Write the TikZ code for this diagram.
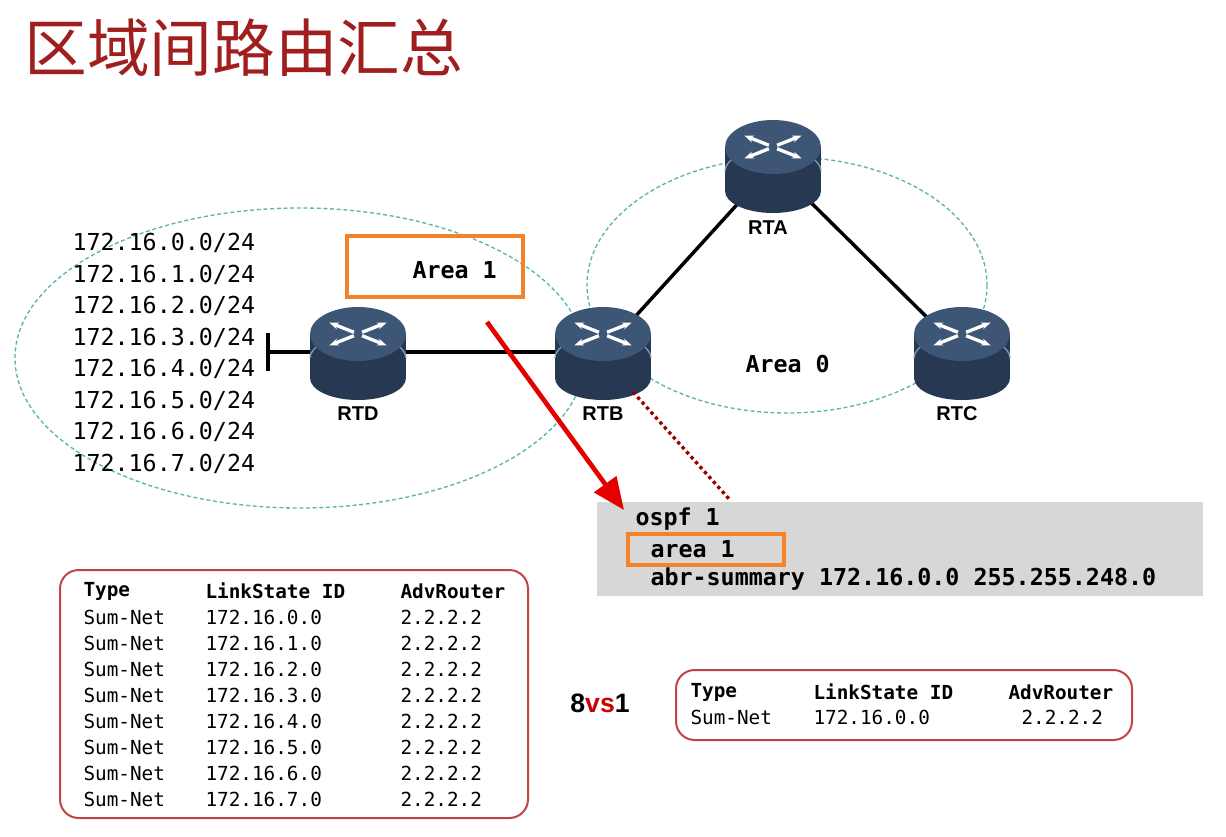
\documentclass[tikz,border=0pt]{standalone}
\usepackage{fontspec}
\setmainfont{Liberation Sans}
\setmonofont{DejaVu Sans Mono}
\newfontfamily\cjk{Noto Sans CJK SC}
\usetikzlibrary{arrows.meta,positioning}

\definecolor{titlered}{RGB}{160,30,30}
\definecolor{rtblue}{RGB}{62,86,118}
\definecolor{rtdark}{RGB}{38,56,82}
\definecolor{areateal}{RGB}{90,180,180}
\definecolor{boxorange}{RGB}{245,130,40}
\definecolor{tabred}{RGB}{190,70,70}
\definecolor{cmdgray}{RGB}{215,215,215}

\tikzset{every picture/.style={line width=0.75pt}}
\tikzset{
  link/.style={line width=2.6pt,black},
  area/.style={areateal,dash pattern=on 3pt off 2pt,line width=1pt},
  orangebox/.style={boxorange,line width=3pt},
  mono/.style={inner sep=0pt,anchor=west,font=\ttfamily\fontsize{17.5}{20}\selectfont},
  monob/.style={mono,font=\ttfamily\bfseries\fontsize{17.5}{20}\selectfont},
  tab/.style={inner sep=0pt,anchor=west,font=\ttfamily\fontsize{14.5}{17}\selectfont},
  tabhead/.style={tab,font=\ttfamily\bfseries\fontsize{14.5}{17}\selectfont},
  rtlabel/.style={inner sep=0pt,font=\bfseries\fontsize{15}{18}\selectfont},
  tabbox/.style={tabred,line width=1.5pt,rounded corners=14pt},
}

% router icon: #1 name, #2 centre
\newcommand{\router}[2]{%
  \coordinate (#1) at #2;
  \begin{scope}[shift={#2}]
  \fill[rtdark] (-48,-18) rectangle (48,26);
  \fill[rtdark] (0,26) ellipse[x radius=48,y radius=22];
  \draw[rtblue!60!white,line width=1pt] (-48,6) arc[start angle=180,end angle=0,x radius=48,y radius=-22];
  \fill[rtblue] (0,-18) ellipse[x radius=48,y radius=27];
  \foreach \a in {35,145,215,325}
    \draw[white,line width=2.5pt,-{Stealth[length=7pt]}] (0,-18) ++(\a:5 and 3) -- ++(\a:30 and 17);
  \end{scope}
}

\begin{document}
\begin{tikzpicture}[x=0.75pt,y=0.75pt,yscale=-1,xscale=1]
\useasboundingbox[fill=white] (0,0) rectangle (1226,836);

% title
\node[anchor=west,inner sep=0pt,text=titlered,font=\cjk\fontsize{47}{55}\selectfont] (title) at (24,48) {区域间路由汇总};

% areas
\draw[area] (300,358) ellipse[x radius=285,y radius=150];
\draw[area] (787,285) ellipse[x radius=200,y radius=128];

% links
\coordinate (stub) at (268,352);
\draw[link] (stub) -- (358,352);
\draw[link] (268,333) -- (268,371);
\draw[link] (358,352) -- (603,352);
\draw[link] (603,352) -- (773,165);
\draw[link] (773,165) -- (962,352);

% routers
\router{RTA}{(773,165)}
\router{RTB}{(603,352)}
\router{RTC}{(962,352)}
\router{RTD}{(358,352)}
\node[rtlabel] (la) at (768,228) {RTA};
\node[rtlabel] (lb) at (603,414) {RTB};
\node[rtlabel] (lc) at (957,414) {RTC};
\node[rtlabel] (ld) at (358,414) {RTD};

% prefixes
\foreach \i in {0,...,7}
  \node[mono] (net\i) at (72,{243+31.5*\i}) {172.16.\i.0/24};

% area labels
\draw[orangebox] (347,236) rectangle (523,297);
\node[monob] (a1) at (412,270) {Area 1};
\node[monob] (a0) at (745,364) {Area 0};

% config
\fill[cmdgray] (597,502) rectangle (1203,596);
\node[monob] (c1) at (635,519) {ospf 1};
\node[monob] (c2) at (650,549) {area 1};
\node[monob] (c3) at (650,579) {abr-summary 172.16.0.0 255.255.248.0};
\draw[orangebox] (628,534) rectangle (784,565);
\coordinate (dotend) at (730,500);
\draw[red!60!black,line width=2.5pt,dash pattern=on 2.5pt off 2.5pt] (633,392) -- (dotend);
\coordinate (arrstart) at (487,322);
\coordinate (arrend) at (624,510);
\draw[red!90!black,line width=3.5pt,-{Triangle[length=24pt,width=20pt]}] (arrstart) -- (arrend);

% left table
\draw[tabbox] (60,570) rectangle (528,818);
\node[tabhead] (h1) at (83,591) {Type};
\node[tabhead] (h2) at (205,591) {LinkState ID};
\node[tabhead] (h3) at (400,591) {AdvRouter};
\foreach \i in {0,...,7} {
  \node[tab] (t\i) at (83,{617+26.1*\i}) {Sum-Net};
  \node[tab] (id\i) at (205,{617+26.1*\i}) {172.16.\i.0};
  \node[tab] (ar\i) at (400,{617+26.1*\i}) {2.2.2.2};
}

% compare
\node[inner sep=0pt,font=\bfseries\fontsize{20}{24}\selectfont] (vs) at (600,703) {8\textcolor{red!80!black}{vs}1};

% right table
\draw[tabbox] (676,670) rectangle (1132,740);
\node[tabhead] (g1) at (690,692) {Type};
\node[tabhead] (g2) at (813,692) {LinkState ID};
\node[tabhead] (g3) at (1008,692) {AdvRouter};
\node[tab] (s1) at (690,717) {Sum-Net};
\node[tab] (s2) at (813,717) {172.16.0.0};
\node[tab] (s3) at (1021,717) {2.2.2.2};
\end{tikzpicture}
\end{document}
